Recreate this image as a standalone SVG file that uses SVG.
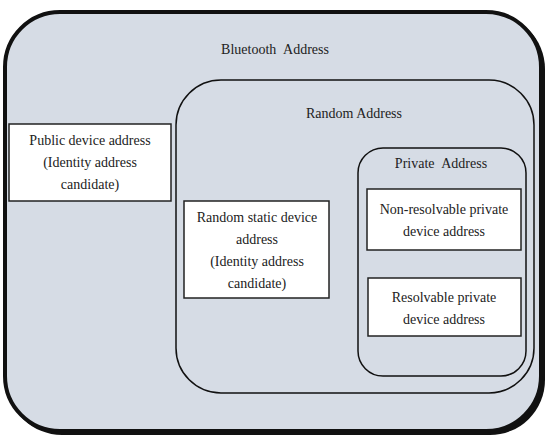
<svg xmlns="http://www.w3.org/2000/svg" width="550" height="440" viewBox="0 0 550 440">
<style>
.t{font-family:"Liberation Serif","DejaVu Serif","Times New Roman",serif;font-size:14px;fill:#222;text-anchor:middle}
.ws{word-spacing:4px}
.box{fill:#fff;stroke:#222;stroke-width:1.5}
.rr{fill:#d6dce5;stroke:#111;stroke-width:1.5}
</style>
<rect width="550" height="440" fill="#fff"/>
<g id="bluetooth-address">
<rect x="7" y="14" width="538" height="421" rx="55" fill="#111"/>
<rect x="5" y="12" width="536" height="419" rx="55" fill="#d6dce5" stroke="#111" stroke-width="4"/>
<text class="t ws" x="275" y="54">Bluetooth Address</text>
</g>
<g id="random-address">
<rect class="rr" x="176" y="80" width="358" height="313" rx="45"/>
<text class="t" x="354" y="118">Random Address</text>
</g>
<g id="private-address">
<rect class="rr" x="358" y="148" width="168" height="228" rx="25"/>
<text class="t ws" x="441" y="168">Private Address</text>
</g>
<g id="public-device-address">
<rect class="box" x="9" y="124" width="162" height="77"/>
<text class="t" x="90" y="145">Public device address</text>
<text class="t" x="90" y="167">(Identity address</text>
<text class="t" x="90" y="189">candidate)</text>
</g>
<g id="random-static-device-address">
<rect class="box" x="184" y="201" width="145" height="97"/>
<text class="t" x="257" y="222">Random static device</text>
<text class="t" x="257" y="244">address</text>
<text class="t" x="257" y="266">(Identity address</text>
<text class="t" x="257" y="288">candidate)</text>
</g>
<g id="non-resolvable-private-device-address">
<rect class="box" x="367" y="189" width="154" height="61"/>
<text class="t" x="444" y="214">Non-resolvable private</text>
<text class="t" x="444" y="236">device address</text>
</g>
<g id="resolvable-private-device-address">
<rect class="box" x="368" y="278" width="153" height="58"/>
<text class="t" x="444" y="302">Resolvable private</text>
<text class="t" x="444" y="324">device address</text>
</g>
<g id="connectors"/>
</svg>
